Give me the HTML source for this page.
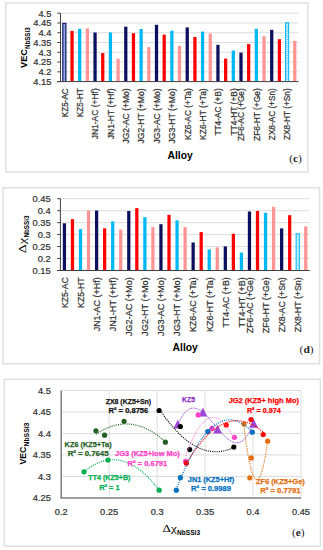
<!DOCTYPE html><html><head><meta charset="utf-8"><style>html,body{margin:0;padding:0;background:#fff;}body{width:323px;height:550px;overflow:hidden;font-family:"Liberation Sans",sans-serif;}svg{display:block;}</style></head><body><svg width="323" height="550" viewBox="0 0 323 550" font-family="Liberation Sans, sans-serif">
<defs><pattern id="hn" patternUnits="userSpaceOnUse" width="2" height="2"><rect width="2" height="2" fill="#2a3c8c"/><rect width="1" height="1" fill="#9aa6d6"/></pattern><pattern id="hc" patternUnits="userSpaceOnUse" width="2.8" height="2.8"><rect width="2.8" height="2.8" fill="#fff"/><path d="M-0.5,3.3 L3.3,-0.5" stroke="#00b8f4" stroke-width="0.8"/></pattern></defs>
<rect width="323" height="550" fill="#fff"/>
<rect x="5.85" y="2.9" width="302.05" height="169.00" fill="#fff" stroke="#e0e0e0" stroke-width="1.5"/>
<line x1="60.5" y1="13.20" x2="298.6" y2="13.20" stroke="#d9d9d9" stroke-width="0.9"/>
<line x1="57.3" y1="13.20" x2="60.5" y2="13.20" stroke="#404040" stroke-width="1"/>
<text x="51.4" y="16.55" font-size="9.3" text-anchor="end" fill="#303030" stroke="#303030" stroke-width="0.22">4.5</text>
<line x1="60.5" y1="22.97" x2="298.6" y2="22.97" stroke="#d9d9d9" stroke-width="0.9"/>
<line x1="57.3" y1="22.97" x2="60.5" y2="22.97" stroke="#404040" stroke-width="1"/>
<text x="51.4" y="26.32" font-size="9.3" text-anchor="end" fill="#303030" stroke="#303030" stroke-width="0.22">4.45</text>
<line x1="60.5" y1="32.74" x2="298.6" y2="32.74" stroke="#d9d9d9" stroke-width="0.9"/>
<line x1="57.3" y1="32.74" x2="60.5" y2="32.74" stroke="#404040" stroke-width="1"/>
<text x="51.4" y="36.09" font-size="9.3" text-anchor="end" fill="#303030" stroke="#303030" stroke-width="0.22">4.4</text>
<line x1="60.5" y1="42.51" x2="298.6" y2="42.51" stroke="#d9d9d9" stroke-width="0.9"/>
<line x1="57.3" y1="42.51" x2="60.5" y2="42.51" stroke="#404040" stroke-width="1"/>
<text x="51.4" y="45.86" font-size="9.3" text-anchor="end" fill="#303030" stroke="#303030" stroke-width="0.22">4.35</text>
<line x1="60.5" y1="52.29" x2="298.6" y2="52.29" stroke="#d9d9d9" stroke-width="0.9"/>
<line x1="57.3" y1="52.29" x2="60.5" y2="52.29" stroke="#404040" stroke-width="1"/>
<text x="51.4" y="55.64" font-size="9.3" text-anchor="end" fill="#303030" stroke="#303030" stroke-width="0.22">4.3</text>
<line x1="60.5" y1="62.06" x2="298.6" y2="62.06" stroke="#d9d9d9" stroke-width="0.9"/>
<line x1="57.3" y1="62.06" x2="60.5" y2="62.06" stroke="#404040" stroke-width="1"/>
<text x="51.4" y="65.41" font-size="9.3" text-anchor="end" fill="#303030" stroke="#303030" stroke-width="0.22">4.25</text>
<line x1="60.5" y1="71.83" x2="298.6" y2="71.83" stroke="#d9d9d9" stroke-width="0.9"/>
<line x1="57.3" y1="71.83" x2="60.5" y2="71.83" stroke="#404040" stroke-width="1"/>
<text x="51.4" y="75.18" font-size="9.3" text-anchor="end" fill="#303030" stroke="#303030" stroke-width="0.22">4.2</text>
<line x1="57.3" y1="81.60" x2="60.5" y2="81.60" stroke="#404040" stroke-width="1"/>
<text x="51.4" y="84.95" font-size="9.3" text-anchor="end" fill="#303030" stroke="#303030" stroke-width="0.22">4.15</text>
<rect x="62.24" y="22.80" width="4.20" height="58.80" fill="#0b0f5e"/>
<rect x="63.14" y="23.70" width="2.40" height="57.90" fill="#4a62b8"/>
<line x1="64.34" y1="24.30" x2="64.34" y2="81.60" stroke="#c8d4f8" stroke-width="1.3" stroke-dasharray="1.1 0.9"/>
<rect x="70.40" y="30.90" width="3.25" height="50.70" fill="#ff0000"/>
<rect x="78.08" y="28.80" width="3.25" height="52.80" fill="#00b8f4"/>
<rect x="85.76" y="28.40" width="3.25" height="53.20" fill="#ff9494"/>
<rect x="93.44" y="32.50" width="3.25" height="49.10" fill="#0b0f5e"/>
<rect x="101.12" y="53.00" width="3.25" height="28.60" fill="#ff0000"/>
<rect x="108.80" y="32.50" width="3.25" height="49.10" fill="#00b8f4"/>
<rect x="116.48" y="58.70" width="3.25" height="22.90" fill="#ff9494"/>
<rect x="124.16" y="26.70" width="3.25" height="54.90" fill="#0b0f5e"/>
<rect x="131.84" y="33.20" width="3.25" height="48.40" fill="#ff0000"/>
<rect x="139.52" y="29.00" width="3.25" height="52.60" fill="#00b8f4"/>
<rect x="147.20" y="47.10" width="3.25" height="34.50" fill="#ff9494"/>
<rect x="154.88" y="24.80" width="3.25" height="56.80" fill="#0b0f5e"/>
<rect x="162.56" y="34.70" width="3.25" height="46.90" fill="#ff0000"/>
<rect x="170.24" y="30.70" width="3.25" height="50.90" fill="#00b8f4"/>
<rect x="177.93" y="45.80" width="3.25" height="35.80" fill="#ff9494"/>
<rect x="185.61" y="27.40" width="3.25" height="54.20" fill="#0b0f5e"/>
<rect x="193.29" y="37.00" width="3.25" height="44.60" fill="#ff0000"/>
<rect x="200.97" y="31.60" width="3.25" height="50.00" fill="#00b8f4"/>
<rect x="208.65" y="33.60" width="3.25" height="48.00" fill="#ff9494"/>
<rect x="216.33" y="44.80" width="3.25" height="36.80" fill="#0b0f5e"/>
<rect x="224.01" y="58.60" width="3.25" height="23.00" fill="#ff0000"/>
<rect x="231.69" y="50.50" width="3.25" height="31.10" fill="#00b8f4"/>
<rect x="239.37" y="52.60" width="3.25" height="29.00" fill="#0b0f5e"/>
<rect x="247.05" y="44.10" width="3.25" height="37.50" fill="#ff0000"/>
<rect x="254.73" y="28.80" width="3.25" height="52.80" fill="#00b8f4"/>
<rect x="262.41" y="36.20" width="3.25" height="45.40" fill="#ff9494"/>
<rect x="270.09" y="29.80" width="3.25" height="51.80" fill="#0b0f5e"/>
<rect x="277.77" y="39.20" width="3.25" height="42.40" fill="#ff0000"/>
<rect x="284.98" y="22.30" width="4.20" height="59.30" fill="#00b8f4"/>
<rect x="285.88" y="23.20" width="2.40" height="58.40" fill="#5fd0fa"/>
<line x1="287.08" y1="23.80" x2="287.08" y2="81.60" stroke="#ffffff" stroke-width="1.3" stroke-dasharray="1.1 0.9"/>
<rect x="293.13" y="40.90" width="3.25" height="40.70" fill="#ff9494"/>
<line x1="60.5" y1="13.20" x2="60.5" y2="81.60" stroke="#404040" stroke-width="1"/>
<line x1="57.3" y1="81.60" x2="298.6" y2="81.60" stroke="#404040" stroke-width="1"/>
<text transform="translate(67.64,88.3) rotate(-90)" font-size="8.8" text-anchor="end" fill="#303030" stroke="#303030" stroke-width="0.22" textLength="28.94" lengthAdjust="spacingAndGlyphs">KZ5-AC</text>
<text transform="translate(83.00,88.3) rotate(-90)" font-size="8.8" text-anchor="end" fill="#303030" stroke="#303030" stroke-width="0.22" textLength="28.92" lengthAdjust="spacingAndGlyphs">KZ5-HT</text>
<text transform="translate(98.36,88.3) rotate(-90)" font-size="8.8" text-anchor="end" fill="#303030" stroke="#303030" stroke-width="0.22" textLength="50.97" lengthAdjust="spacingAndGlyphs">JN1-AC (+Hf)</text>
<text transform="translate(113.72,88.3) rotate(-90)" font-size="8.8" text-anchor="end" fill="#303030" stroke="#303030" stroke-width="0.22" textLength="50.95" lengthAdjust="spacingAndGlyphs">JN1-HT (+Hf)</text>
<text transform="translate(129.09,88.3) rotate(-90)" font-size="8.8" text-anchor="end" fill="#303030" stroke="#303030" stroke-width="0.22" textLength="55.31" lengthAdjust="spacingAndGlyphs">JG2-AC (+Mo)</text>
<text transform="translate(144.45,88.3) rotate(-90)" font-size="8.8" text-anchor="end" fill="#303030" stroke="#303030" stroke-width="0.22" textLength="55.29" lengthAdjust="spacingAndGlyphs">JG2-HT (+Mo)</text>
<text transform="translate(159.81,88.3) rotate(-90)" font-size="8.8" text-anchor="end" fill="#303030" stroke="#303030" stroke-width="0.22" textLength="55.31" lengthAdjust="spacingAndGlyphs">JG3-AC (+Mo)</text>
<text transform="translate(175.17,88.3) rotate(-90)" font-size="8.8" text-anchor="end" fill="#303030" stroke="#303030" stroke-width="0.22" textLength="55.29" lengthAdjust="spacingAndGlyphs">JG3-HT (+Mo)</text>
<text transform="translate(190.53,88.3) rotate(-90)" font-size="8.8" text-anchor="end" fill="#303030" stroke="#303030" stroke-width="0.22" textLength="51.67" lengthAdjust="spacingAndGlyphs">KZ6-AC (+Ta)</text>
<text transform="translate(205.89,88.3) rotate(-90)" font-size="8.8" text-anchor="end" fill="#303030" stroke="#303030" stroke-width="0.22" textLength="51.65" lengthAdjust="spacingAndGlyphs">KZ6-HT (+Ta)</text>
<text transform="translate(221.25,88.3) rotate(-90)" font-size="8.8" text-anchor="end" fill="#303030" stroke="#303030" stroke-width="0.22" textLength="47.25" lengthAdjust="spacingAndGlyphs">TT4-AC (+B)</text>
<text transform="translate(236.61,88.3) rotate(-90)" font-size="8.8" text-anchor="end" fill="#303030" stroke="#303030" stroke-width="0.22" textLength="47.23" lengthAdjust="spacingAndGlyphs">TT4-HT (+B)</text>
<text transform="translate(244.30,88.3) rotate(-90)" font-size="8.8" text-anchor="end" fill="#303030" stroke="#303030" stroke-width="0.22" textLength="52.68" lengthAdjust="spacingAndGlyphs">ZF6-AC (+Ge)</text>
<text transform="translate(259.66,88.3) rotate(-90)" font-size="8.8" text-anchor="end" fill="#303030" stroke="#303030" stroke-width="0.22" textLength="52.66" lengthAdjust="spacingAndGlyphs">ZF6-HT (+Ge)</text>
<text transform="translate(275.02,88.3) rotate(-90)" font-size="8.8" text-anchor="end" fill="#303030" stroke="#303030" stroke-width="0.22" textLength="51.84" lengthAdjust="spacingAndGlyphs">ZX8-AC (+Sn)</text>
<text transform="translate(290.38,88.3) rotate(-90)" font-size="8.8" text-anchor="end" fill="#303030" stroke="#303030" stroke-width="0.22" textLength="51.82" lengthAdjust="spacingAndGlyphs">ZX8-HT (+Sn)</text>
<text x="167.5" y="158.8" font-size="10.3" font-weight="bold" fill="#000">Alloy</text>
<text x="289.2" y="161.9" font-family="Liberation Serif, serif" font-size="11.4" fill="#262626">(<tspan font-weight="bold">c</tspan>)</text>
<text transform="translate(27.1,67.9) rotate(-90)" font-size="9.6" font-weight="bold" fill="#000" textLength="18.60" lengthAdjust="spacingAndGlyphs">VEC</text><text transform="translate(30.0,49.099999999999994) rotate(-90)" font-size="6.3" font-weight="bold" fill="#000" textLength="21.80" lengthAdjust="spacingAndGlyphs">NbSSi3</text>
<rect x="3.0" y="187.8" width="316.60" height="176.00" fill="#fff" stroke="#e0e0e0" stroke-width="1.5"/>
<line x1="60.4" y1="198.70" x2="309.8" y2="198.70" stroke="#d9d9d9" stroke-width="0.9"/>
<line x1="57.199999999999996" y1="198.70" x2="60.4" y2="198.70" stroke="#404040" stroke-width="1"/>
<text x="50.6" y="202.05" font-size="9.3" text-anchor="end" fill="#303030" stroke="#303030" stroke-width="0.22">0.45</text>
<line x1="60.4" y1="210.67" x2="309.8" y2="210.67" stroke="#d9d9d9" stroke-width="0.9"/>
<line x1="57.199999999999996" y1="210.67" x2="60.4" y2="210.67" stroke="#404040" stroke-width="1"/>
<text x="50.6" y="214.02" font-size="9.3" text-anchor="end" fill="#303030" stroke="#303030" stroke-width="0.22">0.4</text>
<line x1="60.4" y1="222.63" x2="309.8" y2="222.63" stroke="#d9d9d9" stroke-width="0.9"/>
<line x1="57.199999999999996" y1="222.63" x2="60.4" y2="222.63" stroke="#404040" stroke-width="1"/>
<text x="50.6" y="225.98" font-size="9.3" text-anchor="end" fill="#303030" stroke="#303030" stroke-width="0.22">0.35</text>
<line x1="60.4" y1="234.60" x2="309.8" y2="234.60" stroke="#d9d9d9" stroke-width="0.9"/>
<line x1="57.199999999999996" y1="234.60" x2="60.4" y2="234.60" stroke="#404040" stroke-width="1"/>
<text x="50.6" y="237.95" font-size="9.3" text-anchor="end" fill="#303030" stroke="#303030" stroke-width="0.22">0.3</text>
<line x1="60.4" y1="246.57" x2="309.8" y2="246.57" stroke="#d9d9d9" stroke-width="0.9"/>
<line x1="57.199999999999996" y1="246.57" x2="60.4" y2="246.57" stroke="#404040" stroke-width="1"/>
<text x="50.6" y="249.92" font-size="9.3" text-anchor="end" fill="#303030" stroke="#303030" stroke-width="0.22">0.25</text>
<line x1="60.4" y1="258.53" x2="309.8" y2="258.53" stroke="#d9d9d9" stroke-width="0.9"/>
<line x1="57.199999999999996" y1="258.53" x2="60.4" y2="258.53" stroke="#404040" stroke-width="1"/>
<text x="50.6" y="261.88" font-size="9.3" text-anchor="end" fill="#303030" stroke="#303030" stroke-width="0.22">0.2</text>
<line x1="57.199999999999996" y1="270.50" x2="60.4" y2="270.50" stroke="#404040" stroke-width="1"/>
<text x="50.6" y="273.85" font-size="9.3" text-anchor="end" fill="#303030" stroke="#303030" stroke-width="0.22">0.15</text>
<rect x="62.80" y="223.30" width="3.25" height="47.20" fill="#0b0f5e"/>
<rect x="70.84" y="219.20" width="3.25" height="51.30" fill="#ff0000"/>
<rect x="78.89" y="229.10" width="3.25" height="41.40" fill="#00b8f4"/>
<rect x="86.93" y="210.50" width="3.25" height="60.00" fill="#ff9494"/>
<rect x="94.98" y="210.50" width="3.25" height="60.00" fill="#0b0f5e"/>
<rect x="103.02" y="228.40" width="3.25" height="42.10" fill="#ff0000"/>
<rect x="111.07" y="221.40" width="3.25" height="49.10" fill="#00b8f4"/>
<rect x="119.11" y="229.60" width="3.25" height="40.90" fill="#ff9494"/>
<rect x="127.16" y="211.00" width="3.25" height="59.50" fill="#0b0f5e"/>
<rect x="135.20" y="208.10" width="3.25" height="62.40" fill="#ff0000"/>
<rect x="143.25" y="217.20" width="3.25" height="53.30" fill="#00b8f4"/>
<rect x="151.29" y="227.10" width="3.25" height="43.40" fill="#ff9494"/>
<rect x="159.34" y="224.20" width="3.25" height="46.30" fill="#0b0f5e"/>
<rect x="167.38" y="214.80" width="3.25" height="55.70" fill="#ff0000"/>
<rect x="175.43" y="220.40" width="3.25" height="50.10" fill="#00b8f4"/>
<rect x="183.47" y="227.10" width="3.25" height="43.40" fill="#ff9494"/>
<rect x="191.52" y="242.50" width="3.25" height="28.00" fill="#0b0f5e"/>
<rect x="199.57" y="232.10" width="3.25" height="38.40" fill="#ff0000"/>
<rect x="207.61" y="249.40" width="3.25" height="21.10" fill="#00b8f4"/>
<rect x="215.66" y="247.40" width="3.25" height="23.10" fill="#ff9494"/>
<rect x="223.70" y="246.40" width="3.25" height="24.10" fill="#0b0f5e"/>
<rect x="231.75" y="233.80" width="3.25" height="36.70" fill="#ff0000"/>
<rect x="239.79" y="252.60" width="3.25" height="17.90" fill="#00b8f4"/>
<rect x="247.84" y="211.50" width="3.25" height="59.00" fill="#0b0f5e"/>
<rect x="255.88" y="211.00" width="3.25" height="59.50" fill="#ff0000"/>
<rect x="263.93" y="212.80" width="3.25" height="57.70" fill="#00b8f4"/>
<rect x="271.97" y="206.80" width="3.25" height="63.70" fill="#ff9494"/>
<rect x="280.02" y="228.40" width="3.25" height="42.10" fill="#0b0f5e"/>
<rect x="288.06" y="215.20" width="3.25" height="55.30" fill="#ff0000"/>
<rect x="296.13" y="233.80" width="3.20" height="36.70" fill="url(#hc)" stroke="#00b8f4" stroke-width="1"/>
<rect x="304.15" y="226.40" width="3.25" height="44.10" fill="#ff9494"/>
<line x1="60.4" y1="198.70" x2="60.4" y2="270.50" stroke="#404040" stroke-width="1"/>
<line x1="57.199999999999996" y1="270.50" x2="309.8" y2="270.50" stroke="#404040" stroke-width="1"/>
<text transform="translate(67.72,277.3) rotate(-90)" font-size="9.2" text-anchor="end" fill="#303030" stroke="#303030" stroke-width="0.22" textLength="30.69" lengthAdjust="spacingAndGlyphs">KZ5-AC</text>
<text transform="translate(83.81,277.3) rotate(-90)" font-size="9.2" text-anchor="end" fill="#303030" stroke="#303030" stroke-width="0.22" textLength="30.67" lengthAdjust="spacingAndGlyphs">KZ5-HT</text>
<text transform="translate(99.90,277.3) rotate(-90)" font-size="9.2" text-anchor="end" fill="#303030" stroke="#303030" stroke-width="0.22" textLength="54.05" lengthAdjust="spacingAndGlyphs">JN1-AC (+Hf)</text>
<text transform="translate(115.99,277.3) rotate(-90)" font-size="9.2" text-anchor="end" fill="#303030" stroke="#303030" stroke-width="0.22" textLength="54.03" lengthAdjust="spacingAndGlyphs">JN1-HT (+Hf)</text>
<text transform="translate(132.08,277.3) rotate(-90)" font-size="9.2" text-anchor="end" fill="#303030" stroke="#303030" stroke-width="0.22" textLength="58.66" lengthAdjust="spacingAndGlyphs">JG2-AC (+Mo)</text>
<text transform="translate(148.17,277.3) rotate(-90)" font-size="9.2" text-anchor="end" fill="#303030" stroke="#303030" stroke-width="0.22" textLength="58.64" lengthAdjust="spacingAndGlyphs">JG2-HT (+Mo)</text>
<text transform="translate(164.26,277.3) rotate(-90)" font-size="9.2" text-anchor="end" fill="#303030" stroke="#303030" stroke-width="0.22" textLength="58.66" lengthAdjust="spacingAndGlyphs">JG3-AC (+Mo)</text>
<text transform="translate(180.35,277.3) rotate(-90)" font-size="9.2" text-anchor="end" fill="#303030" stroke="#303030" stroke-width="0.22" textLength="58.64" lengthAdjust="spacingAndGlyphs">JG3-HT (+Mo)</text>
<text transform="translate(196.45,277.3) rotate(-90)" font-size="9.2" text-anchor="end" fill="#303030" stroke="#303030" stroke-width="0.22" textLength="54.80" lengthAdjust="spacingAndGlyphs">KZ6-AC (+Ta)</text>
<text transform="translate(212.54,277.3) rotate(-90)" font-size="9.2" text-anchor="end" fill="#303030" stroke="#303030" stroke-width="0.22" textLength="54.78" lengthAdjust="spacingAndGlyphs">KZ6-HT (+Ta)</text>
<text transform="translate(228.63,277.3) rotate(-90)" font-size="9.2" text-anchor="end" fill="#303030" stroke="#303030" stroke-width="0.22" textLength="50.12" lengthAdjust="spacingAndGlyphs">TT4-AC (+B)</text>
<text transform="translate(244.72,277.3) rotate(-90)" font-size="9.2" text-anchor="end" fill="#303030" stroke="#303030" stroke-width="0.22" textLength="50.10" lengthAdjust="spacingAndGlyphs">TT4-HT (+B)</text>
<text transform="translate(252.76,277.3) rotate(-90)" font-size="9.2" text-anchor="end" fill="#303030" stroke="#303030" stroke-width="0.22" textLength="55.87" lengthAdjust="spacingAndGlyphs">ZF6-AC (+Ge)</text>
<text transform="translate(268.85,277.3) rotate(-90)" font-size="9.2" text-anchor="end" fill="#303030" stroke="#303030" stroke-width="0.22" textLength="55.85" lengthAdjust="spacingAndGlyphs">ZF6-HT (+Ge)</text>
<text transform="translate(284.94,277.3) rotate(-90)" font-size="9.2" text-anchor="end" fill="#303030" stroke="#303030" stroke-width="0.22" textLength="54.98" lengthAdjust="spacingAndGlyphs">ZX8-AC (+Sn)</text>
<text transform="translate(301.03,277.3) rotate(-90)" font-size="9.2" text-anchor="end" fill="#303030" stroke="#303030" stroke-width="0.22" textLength="54.96" lengthAdjust="spacingAndGlyphs">ZX8-HT (+Sn)</text>
<text x="172.6" y="350.7" font-size="10.3" font-weight="bold" fill="#000">Alloy</text>
<text x="299.6" y="353.4" font-family="Liberation Serif, serif" font-size="11.4" fill="#262626">(<tspan font-weight="bold">d</tspan>)</text>
<text transform="translate(26.2,253.2) rotate(-90)" font-family="Liberation Serif, serif" font-size="11" fill="#000" textLength="15.2" lengthAdjust="spacingAndGlyphs">Δχ</text><text transform="translate(28.7,237.6) rotate(-90)" font-size="6.3" font-weight="bold" fill="#000" textLength="22.2" lengthAdjust="spacingAndGlyphs">NbSSi3</text>
<rect x="4.3" y="379.3" width="316.10" height="166.90" fill="#fff" stroke="#e0e0e0" stroke-width="1.5"/>
<line x1="61.2" y1="390.50" x2="301.0" y2="390.50" stroke="#d9d9d9" stroke-width="0.9"/>
<line x1="61.2" y1="411.98" x2="301.0" y2="411.98" stroke="#d9d9d9" stroke-width="0.9"/>
<line x1="61.2" y1="433.46" x2="301.0" y2="433.46" stroke="#d9d9d9" stroke-width="0.9"/>
<line x1="61.2" y1="454.94" x2="301.0" y2="454.94" stroke="#d9d9d9" stroke-width="0.9"/>
<line x1="61.2" y1="476.42" x2="301.0" y2="476.42" stroke="#d9d9d9" stroke-width="0.9"/>
<line x1="109.16" y1="390.5" x2="109.16" y2="497.9" stroke="#d9d9d9" stroke-width="0.9"/>
<line x1="157.12" y1="390.5" x2="157.12" y2="497.9" stroke="#d9d9d9" stroke-width="0.9"/>
<line x1="205.08" y1="390.5" x2="205.08" y2="497.9" stroke="#d9d9d9" stroke-width="0.9"/>
<line x1="253.04" y1="390.5" x2="253.04" y2="497.9" stroke="#d9d9d9" stroke-width="0.9"/>
<line x1="301.00" y1="390.5" x2="301.00" y2="497.9" stroke="#d9d9d9" stroke-width="0.9"/>
<text x="50.9" y="393.85" font-size="9.3" text-anchor="end" fill="#303030" stroke="#303030" stroke-width="0.22">4.5</text>
<text x="50.9" y="415.33" font-size="9.3" text-anchor="end" fill="#303030" stroke="#303030" stroke-width="0.22">4.45</text>
<text x="50.9" y="436.81" font-size="9.3" text-anchor="end" fill="#303030" stroke="#303030" stroke-width="0.22">4.4</text>
<text x="50.9" y="458.29" font-size="9.3" text-anchor="end" fill="#303030" stroke="#303030" stroke-width="0.22">4.35</text>
<text x="50.9" y="479.77" font-size="9.3" text-anchor="end" fill="#303030" stroke="#303030" stroke-width="0.22">4.3</text>
<text x="50.9" y="501.25" font-size="9.3" text-anchor="end" fill="#303030" stroke="#303030" stroke-width="0.22">4.25</text>
<text x="61.20" y="515.2" font-size="9.3" text-anchor="middle" fill="#303030" stroke="#303030" stroke-width="0.22">0.2</text>
<text x="109.16" y="515.2" font-size="9.3" text-anchor="middle" fill="#303030" stroke="#303030" stroke-width="0.22">0.25</text>
<text x="157.12" y="515.2" font-size="9.3" text-anchor="middle" fill="#303030" stroke="#303030" stroke-width="0.22">0.3</text>
<text x="205.08" y="515.2" font-size="9.3" text-anchor="middle" fill="#303030" stroke="#303030" stroke-width="0.22">0.35</text>
<text x="253.04" y="515.2" font-size="9.3" text-anchor="middle" fill="#303030" stroke="#303030" stroke-width="0.22">0.4</text>
<text x="301.00" y="515.2" font-size="9.3" text-anchor="middle" fill="#303030" stroke="#303030" stroke-width="0.22">0.45</text>
<line x1="61.2" y1="390.5" x2="61.2" y2="497.9" stroke="#7f7f7f" stroke-width="1.5"/>
<line x1="60.45" y1="497.9" x2="301.0" y2="497.9" stroke="#7f7f7f" stroke-width="1.5"/>
<path d="M177.80,419.80 L182.20,428.60 L173.40,428.60 Z" fill="#9a46d8"/>
<path d="M202.90,407.60 L207.30,416.40 L198.50,416.40 Z" fill="#9a46d8"/>
<path d="M217.60,424.80 L222.00,433.60 L213.20,433.60 Z" fill="#9a46d8"/>
<path d="M253.60,418.90 L258.00,427.70 L249.20,427.70 Z" fill="#9a46d8"/>
<circle cx="95.9" cy="430.8" r="2.6" fill="#236023"/>
<circle cx="104.6" cy="435.2" r="2.6" fill="#236023"/>
<circle cx="124.1" cy="421.3" r="2.6" fill="#236023"/>
<circle cx="165.4" cy="442.2" r="2.6" fill="#236023"/>
<circle cx="84.0" cy="471.8" r="2.6" fill="#00b050"/>
<circle cx="108.0" cy="460.1" r="2.6" fill="#00b050"/>
<circle cx="159.2" cy="490.2" r="2.6" fill="#00b050"/>
<circle cx="159.1" cy="410.5" r="2.6" fill="#000000"/>
<circle cx="180.4" cy="426.5" r="2.6" fill="#000000"/>
<circle cx="189.7" cy="449.6" r="2.6" fill="#000000"/>
<circle cx="233.8" cy="447.0" r="2.6" fill="#000000"/>
<circle cx="185.6" cy="461.4" r="2.6" fill="#ff40c8"/>
<circle cx="198.2" cy="414.9" r="2.6" fill="#ff40c8"/>
<circle cx="211.9" cy="428.4" r="2.6" fill="#ff40c8"/>
<circle cx="234.4" cy="437.3" r="2.6" fill="#ff40c8"/>
<circle cx="244.0" cy="424.0" r="2.6" fill="#e46c0a"/>
<circle cx="249.8" cy="477.8" r="2.6" fill="#e46c0a"/>
<circle cx="251.3" cy="457.9" r="2.6" fill="#e46c0a"/>
<circle cx="267.7" cy="441.2" r="2.6" fill="#e46c0a"/>
<circle cx="176.3" cy="490.2" r="2.6" fill="#0070c0"/>
<circle cx="180.4" cy="477.7" r="2.6" fill="#0070c0"/>
<circle cx="207.8" cy="431.7" r="2.6" fill="#0070c0"/>
<circle cx="252.3" cy="432.2" r="2.6" fill="#0070c0"/>
<circle cx="186.4" cy="463.2" r="2.6" fill="#ff0000"/>
<circle cx="226.2" cy="425.0" r="2.6" fill="#ff0000"/>
<circle cx="251.0" cy="419.6" r="2.6" fill="#ff0000"/>
<circle cx="263.2" cy="434.6" r="2.6" fill="#ff0000"/>
<path d="M95.90,434.40 L97.08,433.60 L98.26,432.83 L99.43,432.10 L100.61,431.39 L101.79,430.72 L102.97,430.08 L104.15,429.47 L105.32,428.89 L106.50,428.35 L107.68,427.83 L108.86,427.35 L110.04,426.90 L111.21,426.48 L112.39,426.10 L113.57,425.75 L114.75,425.42 L115.93,425.13 L117.10,424.88 L118.28,424.65 L119.46,424.46 L120.64,424.30 L121.82,424.17 L122.99,424.07 L124.17,424.00 L125.35,423.97 L126.53,423.97 L127.71,424.00 L128.88,424.06 L130.06,424.15 L131.24,424.28 L132.42,424.44 L133.59,424.63 L134.77,424.85 L135.95,425.10 L137.13,425.39 L138.31,425.71 L139.48,426.06 L140.66,426.44 L141.84,426.85 L143.02,427.30 L144.20,427.78 L145.37,428.29 L146.55,428.83 L147.73,429.40 L148.91,430.01 L150.09,430.65 L151.26,431.32 L152.44,432.02 L153.62,432.75 L154.80,433.52 L155.98,434.32 L157.15,435.15 L158.33,436.01 L159.51,436.90 L160.69,437.83 L161.87,438.78 L163.04,439.77 L164.22,440.79 L165.40,441.85" fill="none" stroke="#236023" stroke-width="1.1" stroke-dasharray="1.1 1.1"/>
<path d="M84.00,471.80 L85.27,470.76 L86.55,469.78 L87.82,468.83 L89.10,467.94 L90.37,467.09 L91.65,466.28 L92.92,465.53 L94.20,464.82 L95.47,464.15 L96.75,463.54 L98.02,462.96 L99.29,462.44 L100.57,461.96 L101.84,461.53 L103.12,461.15 L104.39,460.81 L105.67,460.51 L106.94,460.27 L108.22,460.07 L109.49,459.92 L110.77,459.81 L112.04,459.75 L113.32,459.74 L114.59,459.77 L115.86,459.85 L117.14,459.98 L118.41,460.15 L119.69,460.37 L120.96,460.63 L122.24,460.94 L123.51,461.30 L124.79,461.71 L126.06,462.16 L127.34,462.66 L128.61,463.20 L129.88,463.79 L131.16,464.43 L132.43,465.11 L133.71,465.84 L134.98,466.62 L136.26,467.44 L137.53,468.31 L138.81,469.23 L140.08,470.19 L141.36,471.20 L142.63,472.25 L143.91,473.35 L145.18,474.50 L146.45,475.70 L147.73,476.94 L149.00,478.23 L150.28,479.56 L151.55,480.94 L152.83,482.37 L154.10,483.84 L155.38,485.36 L156.65,486.93 L157.93,488.54 L159.20,490.20" fill="none" stroke="#00b050" stroke-width="1.1" stroke-dasharray="1.1 1.1"/>
<path d="M159.10,408.68 L160.37,410.57 L161.63,412.43 L162.90,414.24 L164.16,416.00 L165.43,417.73 L166.70,419.41 L167.96,421.05 L169.23,422.64 L170.49,424.20 L171.76,425.71 L173.03,427.18 L174.29,428.60 L175.56,429.99 L176.83,431.33 L178.09,432.62 L179.36,433.88 L180.62,435.09 L181.89,436.26 L183.16,437.39 L184.42,438.47 L185.69,439.52 L186.95,440.52 L188.22,441.47 L189.49,442.39 L190.75,443.26 L192.02,444.09 L193.28,444.87 L194.55,445.62 L195.82,446.32 L197.08,446.97 L198.35,447.59 L199.62,448.16 L200.88,448.69 L202.15,449.18 L203.41,449.62 L204.68,450.03 L205.95,450.39 L207.21,450.70 L208.48,450.98 L209.74,451.21 L211.01,451.40 L212.28,451.54 L213.54,451.65 L214.81,451.71 L216.07,451.73 L217.34,451.70 L218.61,451.64 L219.87,451.53 L221.14,451.37 L222.41,451.18 L223.67,450.94 L224.94,450.66 L226.20,450.34 L227.47,449.97 L228.74,449.56 L230.00,449.11 L231.27,448.62 L232.53,448.08 L233.80,447.50" fill="none" stroke="#000000" stroke-width="1.1" stroke-dasharray="1.1 1.1"/>
<path d="M185.60,455.97 L186.43,453.71 L187.25,451.52 L188.08,449.40 L188.91,447.34 L189.74,445.36 L190.56,443.44 L191.39,441.59 L192.22,439.81 L193.04,438.09 L193.87,436.45 L194.70,434.87 L195.53,433.36 L196.35,431.92 L197.18,430.55 L198.01,429.25 L198.83,428.02 L199.66,426.85 L200.49,425.75 L201.32,424.72 L202.14,423.76 L202.97,422.86 L203.80,422.04 L204.62,421.28 L205.45,420.59 L206.28,419.97 L207.11,419.42 L207.93,418.94 L208.76,418.52 L209.59,418.17 L210.41,417.90 L211.24,417.69 L212.07,417.54 L212.89,417.47 L213.72,417.46 L214.55,417.53 L215.38,417.66 L216.20,417.85 L217.03,418.12 L217.86,418.46 L218.68,418.86 L219.51,419.33 L220.34,419.87 L221.17,420.48 L221.99,421.16 L222.82,421.91 L223.65,422.72 L224.47,423.60 L225.30,424.55 L226.13,425.57 L226.96,426.66 L227.78,427.81 L228.61,429.03 L229.44,430.33 L230.26,431.69 L231.09,433.11 L231.92,434.61 L232.75,436.18 L233.57,437.81 L234.40,439.51" fill="none" stroke="#ff7ad6" stroke-width="1.0" stroke-dasharray="1 0.8"/>
<path d="M244.00,426.17 L244.40,429.49 L244.80,432.70 L245.21,435.81 L245.61,438.82 L246.01,441.71 L246.41,444.51 L246.81,447.19 L247.21,449.77 L247.62,452.25 L248.02,454.61 L248.42,456.88 L248.82,459.03 L249.22,461.08 L249.62,463.03 L250.03,464.87 L250.43,466.60 L250.83,468.23 L251.23,469.75 L251.63,471.16 L252.03,472.47 L252.44,473.67 L252.84,474.77 L253.24,475.76 L253.64,476.65 L254.04,477.43 L254.44,478.10 L254.85,478.67 L255.25,479.13 L255.65,479.48 L256.05,479.73 L256.45,479.88 L256.85,479.91 L257.26,479.85 L257.66,479.67 L258.06,479.39 L258.46,479.01 L258.86,478.51 L259.26,477.92 L259.67,477.21 L260.07,476.40 L260.47,475.49 L260.87,474.46 L261.27,473.34 L261.67,472.10 L262.08,470.76 L262.48,469.32 L262.88,467.77 L263.28,466.11 L263.68,464.35 L264.08,462.48 L264.49,460.50 L264.89,458.42 L265.29,456.23 L265.69,453.94 L266.09,451.54 L266.49,449.04 L266.90,446.43 L267.30,443.71 L267.70,440.89" fill="none" stroke="#e46c0a" stroke-width="1.1" stroke-dasharray="1.1 1.1"/>
<path d="M177.80,424.76 L179.08,421.90 L180.37,419.35 L181.65,417.09 L182.94,415.11 L184.22,413.40 L185.51,411.95 L186.79,410.75 L188.08,409.79 L189.36,409.06 L190.65,408.54 L191.93,408.23 L193.22,408.11 L194.50,408.18 L195.79,408.42 L197.07,408.83 L198.36,409.38 L199.64,410.08 L200.93,410.91 L202.21,411.85 L203.49,412.90 L204.78,414.05 L206.06,415.29 L207.35,416.60 L208.63,417.98 L209.92,419.41 L211.20,420.89 L212.49,422.40 L213.77,423.92 L215.06,425.46 L216.34,427.00 L217.63,428.53 L218.91,430.04 L220.20,431.51 L221.48,432.94 L222.77,434.31 L224.05,435.62 L225.34,436.86 L226.62,438.00 L227.91,439.05 L229.19,439.99 L230.47,440.81 L231.76,441.50 L233.04,442.05 L234.33,442.44 L235.61,442.68 L236.90,442.73 L238.18,442.61 L239.47,442.29 L240.75,441.76 L242.04,441.01 L243.32,440.04 L244.61,438.83 L245.89,437.37 L247.18,435.65 L248.46,433.65 L249.75,431.38 L251.03,428.81 L252.32,425.93 L253.60,422.74" fill="none" stroke="#9a55d4" stroke-width="1.0" stroke-dasharray="1.2 0.6"/>
<path d="M176.30,489.19 L177.59,485.88 L178.88,482.65 L180.16,479.50 L181.45,476.43 L182.74,473.45 L184.03,470.54 L185.32,467.72 L186.61,464.97 L187.89,462.31 L189.18,459.73 L190.47,457.23 L191.76,454.81 L193.05,452.47 L194.33,450.21 L195.62,448.03 L196.91,445.94 L198.20,443.92 L199.49,441.99 L200.77,440.13 L202.06,438.36 L203.35,436.67 L204.64,435.05 L205.93,433.52 L207.22,432.07 L208.50,430.70 L209.79,429.41 L211.08,428.21 L212.37,427.08 L213.66,426.03 L214.94,425.07 L216.23,424.18 L217.52,423.38 L218.81,422.66 L220.10,422.02 L221.38,421.46 L222.67,420.98 L223.96,420.58 L225.25,420.26 L226.54,420.02 L227.83,419.86 L229.11,419.79 L230.40,419.79 L231.69,419.88 L232.98,420.04 L234.27,420.29 L235.55,420.62 L236.84,421.03 L238.13,421.52 L239.42,422.09 L240.71,422.74 L241.99,423.47 L243.28,424.29 L244.57,425.18 L245.86,426.15 L247.15,427.21 L248.44,428.35 L249.72,429.56 L251.01,430.86 L252.30,432.24" fill="none" stroke="#0070c0" stroke-width="1.1" stroke-dasharray="1.1 1.1"/>
<path d="M186.40,463.63 L187.70,461.45 L189.00,459.33 L190.31,457.27 L191.61,455.26 L192.91,453.31 L194.21,451.41 L195.51,449.57 L196.81,447.79 L198.12,446.07 L199.42,444.40 L200.72,442.79 L202.02,441.23 L203.32,439.74 L204.62,438.29 L205.93,436.91 L207.23,435.58 L208.53,434.31 L209.83,433.10 L211.13,431.94 L212.43,430.84 L213.74,429.79 L215.04,428.81 L216.34,427.88 L217.64,427.00 L218.94,426.19 L220.24,425.43 L221.55,424.72 L222.85,424.07 L224.15,423.48 L225.45,422.95 L226.75,422.47 L228.05,422.05 L229.36,421.69 L230.66,421.38 L231.96,421.13 L233.26,420.94 L234.56,420.80 L235.86,420.72 L237.17,420.70 L238.47,420.73 L239.77,420.82 L241.07,420.97 L242.37,421.17 L243.67,421.43 L244.98,421.75 L246.28,422.12 L247.58,422.55 L248.88,423.04 L250.18,423.59 L251.48,424.19 L252.79,424.84 L254.09,425.56 L255.39,426.33 L256.69,427.16 L257.99,428.04 L259.29,428.98 L260.60,429.98 L261.90,431.03 L263.20,432.14" fill="none" stroke="#ff0000" stroke-width="1.1" stroke-dasharray="1.1 1.1"/>
<text x="128.4" y="403.8" font-size="8.0" font-weight="bold" text-anchor="middle" fill="#111" stroke="#111" stroke-width="0.25" textLength="45.5" lengthAdjust="spacingAndGlyphs">ZX8 (KZ5+Sn)</text>
<text x="128.4" y="413.4" font-size="8.0" font-weight="bold" text-anchor="middle" fill="#111" stroke="#111" stroke-width="0.25" textLength="39.8" lengthAdjust="spacingAndGlyphs">R² = 0.8756</text>
<text x="88.1" y="446.8" font-size="8.0" font-weight="bold" text-anchor="middle" fill="#236023" stroke="#236023" stroke-width="0.25" textLength="47.0" lengthAdjust="spacingAndGlyphs">KZ6 (KZ5+Ta)</text>
<text x="88.1" y="456.4" font-size="8.0" font-weight="bold" text-anchor="middle" fill="#236023" stroke="#236023" stroke-width="0.25" textLength="40.8" lengthAdjust="spacingAndGlyphs">R² = 0.7645</text>
<text x="109.4" y="480.2" font-size="8.0" font-weight="bold" text-anchor="middle" fill="#00b050" stroke="#00b050" stroke-width="0.25" textLength="42.2" lengthAdjust="spacingAndGlyphs">TT4 (KZ5+B)</text>
<text x="109.4" y="490.0" font-size="8.0" font-weight="bold" text-anchor="middle" fill="#00b050" stroke="#00b050" stroke-width="0.25" textLength="20.5" lengthAdjust="spacingAndGlyphs">R² = 1</text>
<text x="147.4" y="455.8" font-size="8.0" font-weight="bold" text-anchor="middle" fill="#ff40c8" stroke="#ff40c8" stroke-width="0.25" textLength="64.6" lengthAdjust="spacingAndGlyphs">JG3 (KZ5+low Mo)</text>
<text x="147.4" y="465.6" font-size="8.0" font-weight="bold" text-anchor="middle" fill="#ff40c8" stroke="#ff40c8" stroke-width="0.25" textLength="39.7" lengthAdjust="spacingAndGlyphs">R² = 0.6791</text>
<text x="211.0" y="481.5" font-size="8.0" font-weight="bold" text-anchor="middle" fill="#0070c0" stroke="#0070c0" stroke-width="0.25" textLength="46.4" lengthAdjust="spacingAndGlyphs">JN1 (KZ5+Hf)</text>
<text x="211.0" y="491.4" font-size="8.0" font-weight="bold" text-anchor="middle" fill="#0070c0" stroke="#0070c0" stroke-width="0.25" textLength="40.0" lengthAdjust="spacingAndGlyphs">R² = 0.9989</text>
<text x="263.8" y="402.8" font-size="8.0" font-weight="bold" text-anchor="middle" fill="#ff0000" stroke="#ff0000" stroke-width="0.25" textLength="70.3" lengthAdjust="spacingAndGlyphs">JG2 (KZ5+ high Mo)</text>
<text x="263.8" y="413.4" font-size="8.0" font-weight="bold" text-anchor="middle" fill="#ff0000" stroke="#ff0000" stroke-width="0.25" textLength="33.7" lengthAdjust="spacingAndGlyphs">R² = 0.974</text>
<text x="280.4" y="483.5" font-size="8.0" font-weight="bold" text-anchor="middle" fill="#e46c0a" stroke="#e46c0a" stroke-width="0.25" textLength="48.8" lengthAdjust="spacingAndGlyphs">ZF6 (KZ5+Ge)</text>
<text x="280.4" y="493.4" font-size="8.0" font-weight="bold" text-anchor="middle" fill="#e46c0a" stroke="#e46c0a" stroke-width="0.25" textLength="40.3" lengthAdjust="spacingAndGlyphs">R² = 0.7791</text>
<text x="188.5" y="401.9" font-size="8.0" font-weight="bold" text-anchor="middle" fill="#8c2cc8" stroke="#8c2cc8" stroke-width="0.25" textLength="13.0" lengthAdjust="spacingAndGlyphs">KZ5</text>
<text transform="translate(25.9,464.6) rotate(-90)" font-size="9.6" font-weight="bold" fill="#000" textLength="18.00" lengthAdjust="spacingAndGlyphs">VEC</text><text transform="translate(28.799999999999997,446.40000000000003) rotate(-90)" font-size="6.3" font-weight="bold" fill="#000" textLength="23.70" lengthAdjust="spacingAndGlyphs">NbSSi3</text>
<text x="162.6" y="532.3" font-family="Liberation Serif, serif" font-size="11" fill="#000" textLength="14.2" lengthAdjust="spacingAndGlyphs">Δχ</text><text x="177.1" y="534.7" font-size="6.3" font-weight="bold" fill="#000" textLength="23" lengthAdjust="spacingAndGlyphs">NbSSi3</text>
<text x="292.0" y="535.5" font-family="Liberation Serif, serif" font-size="11.4" fill="#262626">(<tspan font-weight="bold">e</tspan>)</text>
</svg></body></html>
